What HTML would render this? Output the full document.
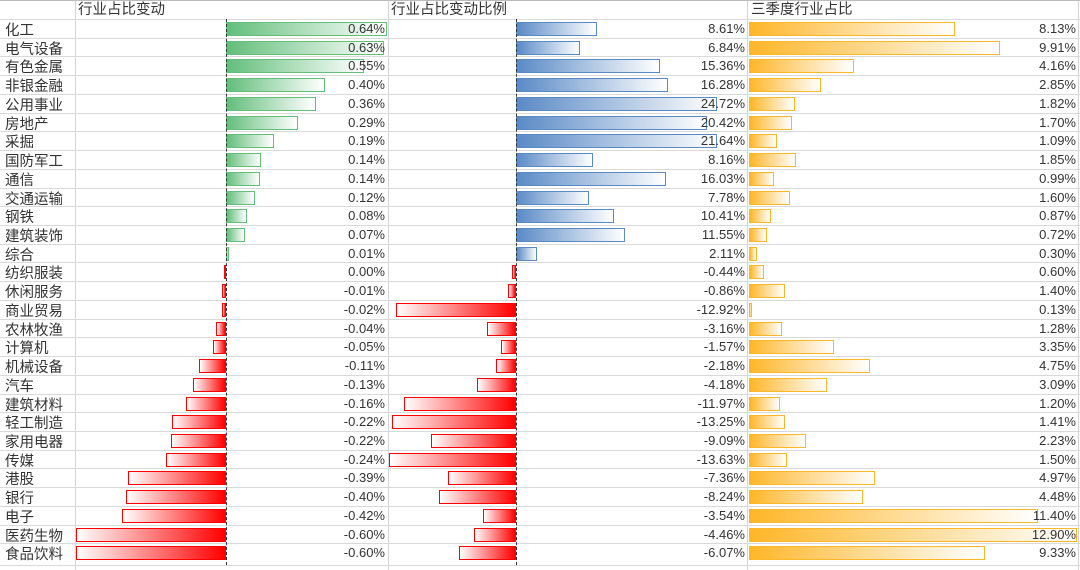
<!DOCTYPE html>
<html><head><meta charset="utf-8"><style>
body{margin:0;width:1080px;height:570px;background:#fff;position:relative;overflow:hidden;font-family:"Liberation Sans","Noto Sans CJK SC",sans-serif;font-size:13px;color:#333}
.r{position:absolute;left:0;width:1080px;height:18.72px;border-top:1px solid #d9d9d9;box-sizing:border-box}
.l{position:absolute;left:5px;top:2px;line-height:18px;font-size:14.5px}
.v{position:absolute;top:0;line-height:18px;text-align:right;width:100px}
.v1{left:285px}.v2{left:645px}.v3{left:976px}
.b{position:absolute;top:2px;height:14px;box-sizing:border-box}
.g{background:linear-gradient(to right,#63be7b,#fff);border:1px solid #63be7b}
.rd{background:linear-gradient(to right,#fff,#ff0000);border:1px solid #ff0000}
.bl{background:linear-gradient(to right,#5a8ac6,#fff);border:1px solid #5a8ac6}
.o{background:linear-gradient(to right,#ffb628,#fff);border:1px solid #ffb628}
.vl{position:absolute;top:0;height:570px;width:1px;background:#d4d4d4}
.ax{position:absolute;top:19px;height:546px;border-left:1px dashed #333}
.h{position:absolute;top:2px;line-height:17px;font-size:14.5px}
</style></head><body>
<div class="vl" style="left:75px"></div><div class="vl" style="left:388px"></div><div class="vl" style="left:747px"></div><div class="vl" style="left:1078px"></div>
<div style="position:absolute;left:0;top:0;width:1080px;height:1px;background:#bbb"></div>
<div class="h" style="left:78px">行业占比变动</div><div class="h" style="left:391px">行业占比变动比例</div><div class="h" style="left:751px">三季度行业占比</div>
<div style="position:absolute;left:0;top:565px;width:1080px;height:1px;background:#d9d9d9"></div>

<div class="r" style="top:19.0px"><span class="l">化工</span><div class="b g" style="left:226px;width:161px"></div><div class="b bl" style="left:516px;width:81px"></div><div class="b o" style="left:749px;width:206px"></div><span class="v v1">0.64%</span><span class="v v2">8.61%</span><span class="v v3">8.13%</span></div>
<div class="r" style="top:37.7px"><span class="l">电气设备</span><div class="b g" style="left:226px;width:158px"></div><div class="b bl" style="left:516px;width:64px"></div><div class="b o" style="left:749px;width:251px"></div><span class="v v1">0.63%</span><span class="v v2">6.84%</span><span class="v v3">9.91%</span></div>
<div class="r" style="top:56.4px"><span class="l">有色金属</span><div class="b g" style="left:226px;width:138px"></div><div class="b bl" style="left:516px;width:144px"></div><div class="b o" style="left:749px;width:105px"></div><span class="v v1">0.55%</span><span class="v v2">15.36%</span><span class="v v3">4.16%</span></div>
<div class="r" style="top:75.2px"><span class="l">非银金融</span><div class="b g" style="left:226px;width:99px"></div><div class="b bl" style="left:516px;width:152px"></div><div class="b o" style="left:749px;width:72px"></div><span class="v v1">0.40%</span><span class="v v2">16.28%</span><span class="v v3">2.85%</span></div>
<div class="r" style="top:93.9px"><span class="l">公用事业</span><div class="b g" style="left:226px;width:90px"></div><div class="b bl" style="left:516px;width:201px"></div><div class="b o" style="left:749px;width:46px"></div><span class="v v1">0.36%</span><span class="v v2">24.72%</span><span class="v v3">1.82%</span></div>
<div class="r" style="top:112.6px"><span class="l">房地产</span><div class="b g" style="left:226px;width:72px"></div><div class="b bl" style="left:516px;width:191px"></div><div class="b o" style="left:749px;width:43px"></div><span class="v v1">0.29%</span><span class="v v2">20.42%</span><span class="v v3">1.70%</span></div>
<div class="r" style="top:131.3px"><span class="l">采掘</span><div class="b g" style="left:226px;width:48px"></div><div class="b bl" style="left:516px;width:201px"></div><div class="b o" style="left:749px;width:28px"></div><span class="v v1">0.19%</span><span class="v v2">21.64%</span><span class="v v3">1.09%</span></div>
<div class="r" style="top:150.0px"><span class="l">国防军工</span><div class="b g" style="left:226px;width:35px"></div><div class="b bl" style="left:516px;width:77px"></div><div class="b o" style="left:749px;width:47px"></div><span class="v v1">0.14%</span><span class="v v2">8.16%</span><span class="v v3">1.85%</span></div>
<div class="r" style="top:168.8px"><span class="l">通信</span><div class="b g" style="left:226px;width:34px"></div><div class="b bl" style="left:516px;width:150px"></div><div class="b o" style="left:749px;width:25px"></div><span class="v v1">0.14%</span><span class="v v2">16.03%</span><span class="v v3">0.99%</span></div>
<div class="r" style="top:187.5px"><span class="l">交通运输</span><div class="b g" style="left:226px;width:29px"></div><div class="b bl" style="left:516px;width:73px"></div><div class="b o" style="left:749px;width:41px"></div><span class="v v1">0.12%</span><span class="v v2">7.78%</span><span class="v v3">1.60%</span></div>
<div class="r" style="top:206.2px"><span class="l">钢铁</span><div class="b g" style="left:226px;width:21px"></div><div class="b bl" style="left:516px;width:98px"></div><div class="b o" style="left:749px;width:22px"></div><span class="v v1">0.08%</span><span class="v v2">10.41%</span><span class="v v3">0.87%</span></div>
<div class="r" style="top:224.9px"><span class="l">建筑装饰</span><div class="b g" style="left:226px;width:19px"></div><div class="b bl" style="left:516px;width:109px"></div><div class="b o" style="left:749px;width:18px"></div><span class="v v1">0.07%</span><span class="v v2">11.55%</span><span class="v v3">0.72%</span></div>
<div class="r" style="top:243.7px"><span class="l">综合</span><div class="b g" style="left:226px;width:3px"></div><div class="b bl" style="left:516px;width:21px"></div><div class="b o" style="left:749px;width:8px"></div><span class="v v1">0.01%</span><span class="v v2">2.11%</span><span class="v v3">0.30%</span></div>
<div class="r" style="top:262.4px"><span class="l">纺织服装</span><div class="b rd" style="left:224px;width:2px"></div><div class="b rd" style="left:512px;width:4px"></div><div class="b o" style="left:749px;width:15px"></div><span class="v v1">0.00%</span><span class="v v2">-0.44%</span><span class="v v3">0.60%</span></div>
<div class="r" style="top:281.1px"><span class="l">休闲服务</span><div class="b rd" style="left:222px;width:4px"></div><div class="b rd" style="left:508px;width:8px"></div><div class="b o" style="left:749px;width:36px"></div><span class="v v1">-0.01%</span><span class="v v2">-0.86%</span><span class="v v3">1.40%</span></div>
<div class="r" style="top:299.8px"><span class="l">商业贸易</span><div class="b rd" style="left:222px;width:4px"></div><div class="b rd" style="left:396px;width:120px"></div><div class="b o" style="left:749px;width:3px"></div><span class="v v1">-0.02%</span><span class="v v2">-12.92%</span><span class="v v3">0.13%</span></div>
<div class="r" style="top:318.6px"><span class="l">农林牧渔</span><div class="b rd" style="left:216px;width:10px"></div><div class="b rd" style="left:487px;width:29px"></div><div class="b o" style="left:749px;width:33px"></div><span class="v v1">-0.04%</span><span class="v v2">-3.16%</span><span class="v v3">1.28%</span></div>
<div class="r" style="top:337.3px"><span class="l">计算机</span><div class="b rd" style="left:213px;width:13px"></div><div class="b rd" style="left:501px;width:15px"></div><div class="b o" style="left:749px;width:85px"></div><span class="v v1">-0.05%</span><span class="v v2">-1.57%</span><span class="v v3">3.35%</span></div>
<div class="r" style="top:356.0px"><span class="l">机械设备</span><div class="b rd" style="left:199px;width:27px"></div><div class="b rd" style="left:496px;width:20px"></div><div class="b o" style="left:749px;width:121px"></div><span class="v v1">-0.11%</span><span class="v v2">-2.18%</span><span class="v v3">4.75%</span></div>
<div class="r" style="top:374.7px"><span class="l">汽车</span><div class="b rd" style="left:193px;width:33px"></div><div class="b rd" style="left:477px;width:39px"></div><div class="b o" style="left:749px;width:78px"></div><span class="v v1">-0.13%</span><span class="v v2">-4.18%</span><span class="v v3">3.09%</span></div>
<div class="r" style="top:393.5px"><span class="l">建筑材料</span><div class="b rd" style="left:186px;width:40px"></div><div class="b rd" style="left:404px;width:112px"></div><div class="b o" style="left:749px;width:31px"></div><span class="v v1">-0.16%</span><span class="v v2">-11.97%</span><span class="v v3">1.20%</span></div>
<div class="r" style="top:412.2px"><span class="l">轻工制造</span><div class="b rd" style="left:172px;width:54px"></div><div class="b rd" style="left:392px;width:124px"></div><div class="b o" style="left:749px;width:36px"></div><span class="v v1">-0.22%</span><span class="v v2">-13.25%</span><span class="v v3">1.41%</span></div>
<div class="r" style="top:430.9px"><span class="l">家用电器</span><div class="b rd" style="left:171px;width:55px"></div><div class="b rd" style="left:431px;width:85px"></div><div class="b o" style="left:749px;width:57px"></div><span class="v v1">-0.22%</span><span class="v v2">-9.09%</span><span class="v v3">2.23%</span></div>
<div class="r" style="top:449.6px"><span class="l">传媒</span><div class="b rd" style="left:166px;width:60px"></div><div class="b rd" style="left:389px;width:127px"></div><div class="b o" style="left:749px;width:38px"></div><span class="v v1">-0.24%</span><span class="v v2">-13.63%</span><span class="v v3">1.50%</span></div>
<div class="r" style="top:468.3px"><span class="l">港股</span><div class="b rd" style="left:128px;width:98px"></div><div class="b rd" style="left:448px;width:68px"></div><div class="b o" style="left:749px;width:126px"></div><span class="v v1">-0.39%</span><span class="v v2">-7.36%</span><span class="v v3">4.97%</span></div>
<div class="r" style="top:487.1px"><span class="l">银行</span><div class="b rd" style="left:126px;width:100px"></div><div class="b rd" style="left:439px;width:77px"></div><div class="b o" style="left:749px;width:114px"></div><span class="v v1">-0.40%</span><span class="v v2">-8.24%</span><span class="v v3">4.48%</span></div>
<div class="r" style="top:505.8px"><span class="l">电子</span><div class="b rd" style="left:122px;width:104px"></div><div class="b rd" style="left:483px;width:33px"></div><div class="b o" style="left:749px;width:289px"></div><span class="v v1">-0.42%</span><span class="v v2">-3.54%</span><span class="v v3">11.40%</span></div>
<div class="r" style="top:524.5px"><span class="l">医药生物</span><div class="b rd" style="left:76px;width:150px"></div><div class="b rd" style="left:474px;width:42px"></div><div class="b o" style="left:749px;width:328px"></div><span class="v v1">-0.60%</span><span class="v v2">-4.46%</span><span class="v v3">12.90%</span></div>
<div class="r" style="top:543.2px"><span class="l">食品饮料</span><div class="b rd" style="left:76px;width:150px"></div><div class="b rd" style="left:459px;width:57px"></div><div class="b o" style="left:749px;width:236px"></div><span class="v v1">-0.60%</span><span class="v v2">-6.07%</span><span class="v v3">9.33%</span></div>

<div class="ax" style="left:226px"></div><div class="ax" style="left:516px"></div>
</body></html>
